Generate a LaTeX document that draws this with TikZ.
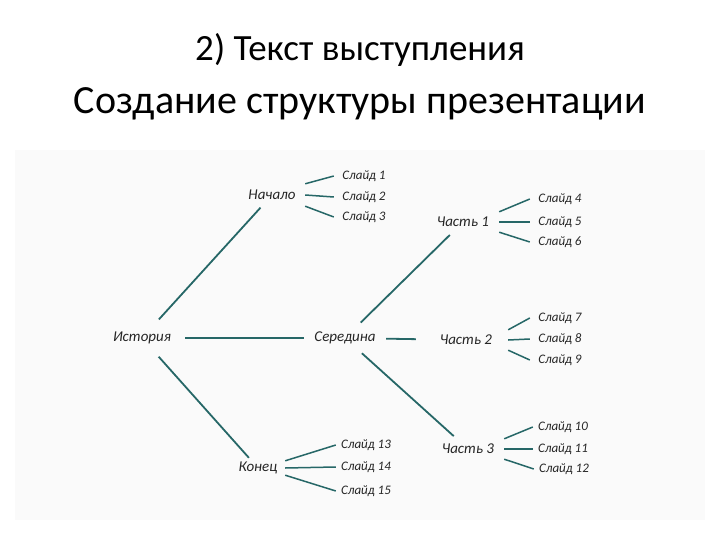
\documentclass[tikz,border=0pt]{standalone}
\usepackage{fontspec}
\setmainfont{Carlito}
\begin{document}
\begin{tikzpicture}[x=1pt,y=-1pt,
  ln/.style={draw=teal!60!black!85, line width=1.8pt},
  sln/.style={draw=teal!60!black!85, line width=1.5pt},
  main/.style={font=\itshape\fontsize{15}{17}\selectfont, inner sep=0pt, minimum width=66pt, minimum height=22pt, text=black!85},
  part/.style={font=\itshape\fontsize{15}{17}\selectfont, inner sep=0pt, minimum width=72pt, minimum height=20pt, text=black!85},
  sl/.style={font=\itshape\fontsize{13}{15}\selectfont, inner sep=0pt, minimum width=60pt, minimum height=6pt, text=black!85},
  ttl/.style={inner sep=0pt}]
\useasboundingbox (0,0) rectangle (720,540);
\fill[black!2] (15,150) rectangle (705,520);
\node[ttl, font=\fontsize{37}{42}\selectfont] (t1) at (360,50) {2) Текст выступления};
\node[ttl, font=\fontsize{40}{45}\selectfont] (t2) at (360,104) {Создание структуры презентации};
\node[main] (ist) at (142,338) {История};
\node[main] (ser) at (345,338) {Середина};
\node[main] (nach) at (272,195) {Начало};
\node[main, minimum height=14pt, minimum width=54pt] (kon) at (258,468) {Конец};
\node[part] (c1) at (463,222) {Часть 1};
\node[part, minimum width=84pt] (c2) at (466,340) {Часть 2};
\node[part] (c3) at (468,449) {Часть 3};
\node[sl] (s1) at (364,176) {Слайд 1};
\node[sl] (s2) at (364,197) {Слайд 2};
\node[sl] (s3) at (364,217) {Слайд 3};
\node[sl] (s4) at (560,199) {Слайд 4};
\node[sl] (s5) at (560,222) {Слайд 5};
\node[sl] (s6) at (560,242) {Слайд 6};
\node[sl] (s7) at (560,318) {Слайд 7};
\node[sl] (s8) at (560,339) {Слайд 8};
\node[sl] (s9) at (560,360) {Слайд 9};
\node[sl] (s10) at (563,427) {Слайд 10};
\node[sl] (s11) at (563,449) {Слайд 11};
\node[sl] (s12) at (564,469) {Слайд 12};
\node[sl] (s13) at (366,445) {Слайд 13};
\node[sl] (s14) at (366,467) {Слайд 14};
\node[sl] (s15) at (366,491) {Слайд 15};
\draw[ln, shorten <=10pt, shorten >=2pt] (ist) -- (nach);
\draw[ln, shorten <=10pt, shorten >=8pt] (ist) -- (ser);
\draw[ln, shorten <=10pt, shorten >=4pt] (ist) -- (kon);
\draw[ln, shorten <=6pt, shorten >=4pt] (ser) -- (c1);
\draw[ln, shorten <=8pt, shorten >=8pt] (ser) -- (c2);
\draw[ln, shorten <=6pt, shorten >=4pt] (ser) -- (c3);
\draw[sln] (nach.north east) -- (s1.west);
\draw[sln] (nach.east) -- (s2.west);
\draw[sln] (nach.south east) -- (s3.west);
\draw[sln] (c1.north east) -- (s4.west);
\draw[sln] (c1.east) -- (s5.west);
\draw[sln] (c1.south east) -- (s6.west);
\draw[sln] (c2.north east) -- (s7.west);
\draw[sln] (c2.east) -- (s8.west);
\draw[sln] (c2.south east) -- (s9.west);
\draw[sln] (c3.north east) -- (s10.west);
\draw[sln] (c3.east) -- (s11.west);
\draw[sln] (c3.south east) -- (s12.west);
\draw[sln] (kon.north east) -- (s13.west);
\draw[sln] (kon.east) -- (s14.west);
\draw[sln] (kon.south east) -- (s15.west);
\end{tikzpicture}
\end{document}
